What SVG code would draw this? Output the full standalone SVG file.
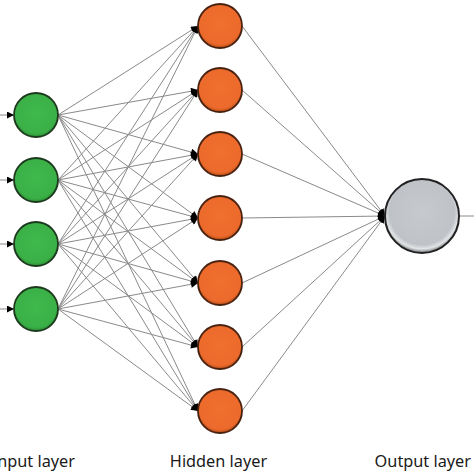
<svg xmlns="http://www.w3.org/2000/svg" width="474" height="474" viewBox="0 0 474 474">
<style>
.edge{stroke:#8a8a8a;stroke-width:1;fill:none}
.lbl{font-family:"Noto Sans","Liberation Sans",sans-serif;font-size:16.3px;fill:#1a1a1a}
.in{fill:url(#gG);stroke:#1e3a1e;stroke-width:1.8}
.hid{fill:url(#gO);stroke:#4a2210;stroke-width:1.8}
.out{fill:url(#gW);stroke:#222;stroke-width:2}
</style>
<defs>
<radialGradient id="gG" cx="50%" cy="45%" r="55%">
<stop offset="0" stop-color="#40b94c"/><stop offset="0.85" stop-color="#3ab046"/><stop offset="1" stop-color="#2a8a34"/>
</radialGradient>
<radialGradient id="gO" cx="50%" cy="45%" r="55%">
<stop offset="0" stop-color="#f0702f"/><stop offset="0.85" stop-color="#ec6a2b"/><stop offset="1" stop-color="#b84c1c"/>
</radialGradient>
<radialGradient id="gW" cx="50%" cy="45%" r="55%">
<stop offset="0" stop-color="#c6cacf"/><stop offset="0.8" stop-color="#bfc3c8"/><stop offset="0.9" stop-color="#e2e4e6"/><stop offset="1" stop-color="#6a6d70"/>
</radialGradient>
<marker id="ah" viewBox="0 0 10 10" refX="10" refY="5" markerWidth="8" markerHeight="7" markerUnits="userSpaceOnUse" orient="auto">
<path d="M0,0 L10,5 L0,10 z" fill="#000"/>
</marker>
</defs>
<g id="connectors">
<line class="edge" x1="0" y1="115" x2="14" y2="115" stroke="#333" marker-end="url(#ah)"/>
<line class="edge" x1="0" y1="180" x2="14" y2="180" stroke="#333" marker-end="url(#ah)"/>
<line class="edge" x1="0" y1="244" x2="14" y2="244" stroke="#333" marker-end="url(#ah)"/>
<line class="edge" x1="0" y1="309" x2="14" y2="309" stroke="#333" marker-end="url(#ah)"/>
<g marker-end="url(#ah)">
<line class="edge" x1="58" y1="115" x2="198" y2="26"/><line class="edge" x1="58" y1="115" x2="198" y2="90"/><line class="edge" x1="58" y1="115" x2="198" y2="154"/><line class="edge" x1="58" y1="115" x2="198" y2="218"/><line class="edge" x1="58" y1="115" x2="198" y2="283"/><line class="edge" x1="58" y1="115" x2="198" y2="347"/><line class="edge" x1="58" y1="115" x2="198" y2="411"/>
<line class="edge" x1="58" y1="180" x2="198" y2="26"/><line class="edge" x1="58" y1="180" x2="198" y2="90"/><line class="edge" x1="58" y1="180" x2="198" y2="154"/><line class="edge" x1="58" y1="180" x2="198" y2="218"/><line class="edge" x1="58" y1="180" x2="198" y2="283"/><line class="edge" x1="58" y1="180" x2="198" y2="347"/><line class="edge" x1="58" y1="180" x2="198" y2="411"/>
<line class="edge" x1="58" y1="244" x2="198" y2="26"/><line class="edge" x1="58" y1="244" x2="198" y2="90"/><line class="edge" x1="58" y1="244" x2="198" y2="154"/><line class="edge" x1="58" y1="244" x2="198" y2="218"/><line class="edge" x1="58" y1="244" x2="198" y2="283"/><line class="edge" x1="58" y1="244" x2="198" y2="347"/><line class="edge" x1="58" y1="244" x2="198" y2="411"/>
<line class="edge" x1="58" y1="309" x2="198" y2="26"/><line class="edge" x1="58" y1="309" x2="198" y2="90"/><line class="edge" x1="58" y1="309" x2="198" y2="154"/><line class="edge" x1="58" y1="309" x2="198" y2="218"/><line class="edge" x1="58" y1="309" x2="198" y2="283"/><line class="edge" x1="58" y1="309" x2="198" y2="347"/><line class="edge" x1="58" y1="309" x2="198" y2="411"/>
<line class="edge" x1="242" y1="26" x2="385" y2="216"/><line class="edge" x1="242" y1="90" x2="385" y2="216"/><line class="edge" x1="242" y1="154" x2="385" y2="216"/><line class="edge" x1="242" y1="218" x2="385" y2="216"/><line class="edge" x1="242" y1="283" x2="385" y2="216"/><line class="edge" x1="242" y1="347" x2="385" y2="216"/><line class="edge" x1="242" y1="411" x2="385" y2="216"/>
</g>
<line class="edge" x1="460" y1="216" x2="474" y2="216" stroke-width="1.5"/>
</g>
<g id="input-1"><circle class="in" cx="36" cy="115" r="22"/></g>
<g id="input-2"><circle class="in" cx="36" cy="180" r="22"/></g>
<g id="input-3"><circle class="in" cx="36" cy="244" r="22"/></g>
<g id="input-4"><circle class="in" cx="36" cy="309" r="22"/></g>
<g id="hidden-1"><circle class="hid" cx="220" cy="26" r="22"/></g>
<g id="hidden-2"><circle class="hid" cx="220" cy="90" r="22"/></g>
<g id="hidden-3"><circle class="hid" cx="220" cy="154" r="22"/></g>
<g id="hidden-4"><circle class="hid" cx="220" cy="218" r="22"/></g>
<g id="hidden-5"><circle class="hid" cx="220" cy="283" r="22"/></g>
<g id="hidden-6"><circle class="hid" cx="220" cy="347" r="22"/></g>
<g id="hidden-7"><circle class="hid" cx="220" cy="411" r="22"/></g>
<g id="output"><circle class="out" cx="422" cy="216" r="37"/></g>
<g id="labels">
<text class="lbl" x="75" y="467" text-anchor="end">Input layer</text>
<text class="lbl" x="218.5" y="467" text-anchor="middle">Hidden layer</text>
<text class="lbl" x="471" y="467" text-anchor="end">Output layer</text>
</g>
</svg>
